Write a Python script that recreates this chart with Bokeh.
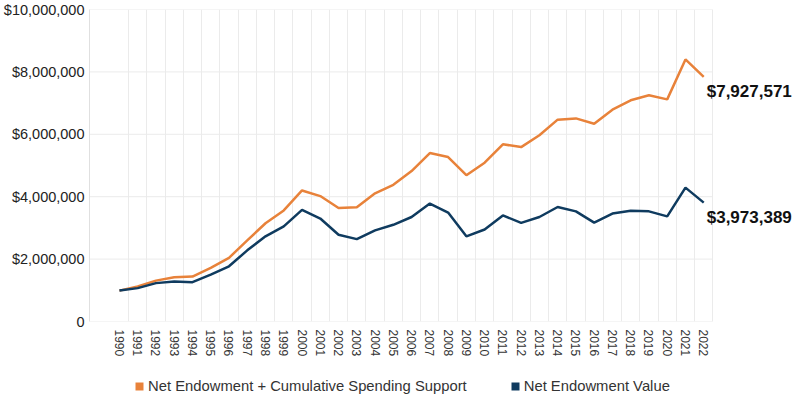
import numpy as np
from bokeh.plotting import figure
from bokeh.layouts import column
from bokeh.models import (ColumnDataSource, Range1d, FixedTicker, Legend, LegendItem,
                          Label)
from bokeh.embed import file_html
from bokeh.resources import INLINE

# ---------------- data ----------------
years = list(range(1990, 2023))
year_labels = [str(y) for y in years]

total_support = [0.99, 1.12, 1.31, 1.42, 1.44, 1.72, 2.04, 2.60, 3.15, 3.56,
                 4.20, 4.02, 3.64, 3.66, 4.11, 4.38, 4.82, 5.40, 5.27, 4.69,
                 5.09, 5.68, 5.59, 5.97, 6.47, 6.51, 6.34, 6.79, 7.09, 7.25,
                 7.12, 8.40, 7.84]
net_value = [0.99, 1.07, 1.23, 1.28, 1.26, 1.50, 1.77, 2.28, 2.73, 3.05,
             3.58, 3.30, 2.78, 2.64, 2.92, 3.10, 3.35, 3.78, 3.49, 2.73,
             2.95, 3.40, 3.16, 3.35, 3.67, 3.53, 3.17, 3.46, 3.55, 3.53,
             3.37, 4.29, 3.81]
total_support = [v * 1_000_000 for v in total_support]
net_value = [v * 1_000_000 for v in net_value]

series_names = ["Net Endowment + Cumulative Spending Support", "Net Endowment Value"]
end_labels = ["$7,927,571", "$3,973,389"]

y_ticks = [0, 2_000_000, 4_000_000, 6_000_000, 8_000_000, 10_000_000]
y_tick_labels = ["0", "$2,000,000", "$4,000,000", "$6,000,000", "$8,000,000", "$10,000,000"]

ORANGE = "#E8823A"
NAVY = "#0F3B5F"
GRID = "#ebebeb"
FONT = "Liberation Sans"

X_START = years[0] - 1.64
X_END = 2027.3
X_GRID_END = years[-1] + 0.5

src = ColumnDataSource(dict(year=years, total=total_support, net=net_value))

p = figure(width=800, height=359, output_backend="svg", toolbar_location=None,
           x_range=Range1d(X_START, X_END), y_range=Range1d(0, 10_000_000),
           min_border_left=87, min_border_right=0, min_border_top=9,
           min_border_bottom=0, outline_line_color=None,
           background_fill_color="white", border_fill_color="white")

# grids: vertical between categories, horizontal only over the category area
p.xgrid.ticker = FixedTicker(ticks=[y + 0.5 for y in years])
p.xgrid.grid_line_color = GRID
p.ygrid.grid_line_color = None
p.segment(x0=[X_START] * len(y_ticks), x1=[X_GRID_END] * len(y_ticks),
          y0=y_ticks, y1=y_ticks, line_color=GRID, line_width=1)

# y axis
p.yaxis.ticker = FixedTicker(ticks=y_ticks)
p.yaxis.major_label_overrides = {t: l for t, l in zip(y_ticks, y_tick_labels)}
p.yaxis.major_label_text_font = FONT
p.yaxis.major_label_text_font_size = "14.5px"
p.yaxis.major_label_text_color = "#222222"
p.yaxis.major_tick_line_color = None
p.yaxis.minor_tick_line_color = None
p.yaxis.major_tick_out = 0
p.yaxis.major_label_standoff = 5
p.yaxis.axis_line_color = "#e0e0e0"

# x axis
p.xaxis.ticker = FixedTicker(ticks=years)
p.xaxis.major_label_overrides = {y: l for y, l in zip(years, year_labels)}
p.xaxis.major_label_orientation = "vertical"
p.xaxis.major_label_text_font = FONT
p.xaxis.major_label_text_font_size = "12px"
p.xaxis.major_label_text_color = "#333333"
p.xaxis.major_tick_line_color = None
p.xaxis.minor_tick_line_color = None
p.xaxis.major_tick_out = 0
p.xaxis.major_label_standoff = 8
p.xaxis.axis_line_color = None

# lines
p.line("year", "total", source=src, line_color=ORANGE, line_width=2.5)
p.line("year", "net", source=src, line_color=NAVY, line_width=2.5)

# end labels
for vals, txt in ((total_support, end_labels[0]), (net_value, end_labels[1])):
    p.add_layout(Label(x=years[-1], y=vals[-1], text=txt, x_offset=3, y_offset=-15,
                       text_font=FONT, text_font_size="17px", text_font_style="bold",
                       text_color="#111111", text_align="left", text_baseline="middle"))

# legend row (separate strip below the chart)
lg = figure(width=800, height=36, output_backend="svg", toolbar_location=None,
            x_axis_type=None, y_axis_type=None, x_range=Range1d(0, 1), y_range=Range1d(0, 1),
            min_border_left=0, min_border_right=0, min_border_top=0, min_border_bottom=0,
            outline_line_color=None, background_fill_color="white", border_fill_color="white")
lg.grid.visible = False
sw1 = lg.rect(x=[np.nan], y=[np.nan], width=1, height=1, fill_color=ORANGE, line_color=None)
sw2 = lg.rect(x=[np.nan], y=[np.nan], width=1, height=1, fill_color=NAVY, line_color=None)
legend = Legend(items=[LegendItem(label=series_names[0], renderers=[sw1]),
                       LegendItem(label=series_names[1], renderers=[sw2])],
                orientation="horizontal", location=(45, 1),
                label_text_font=FONT, label_text_font_size="14.8px",
                label_text_color="#333333",
                glyph_width=10, glyph_height=10, label_standoff=4, label_height=16,
                spacing=43, padding=0, margin=0,
                border_line_color=None, background_fill_alpha=0)
lg.add_layout(legend, "center")

layout = column(p, lg, spacing=0)
open("out.html", "w").write(file_html(layout, INLINE))
